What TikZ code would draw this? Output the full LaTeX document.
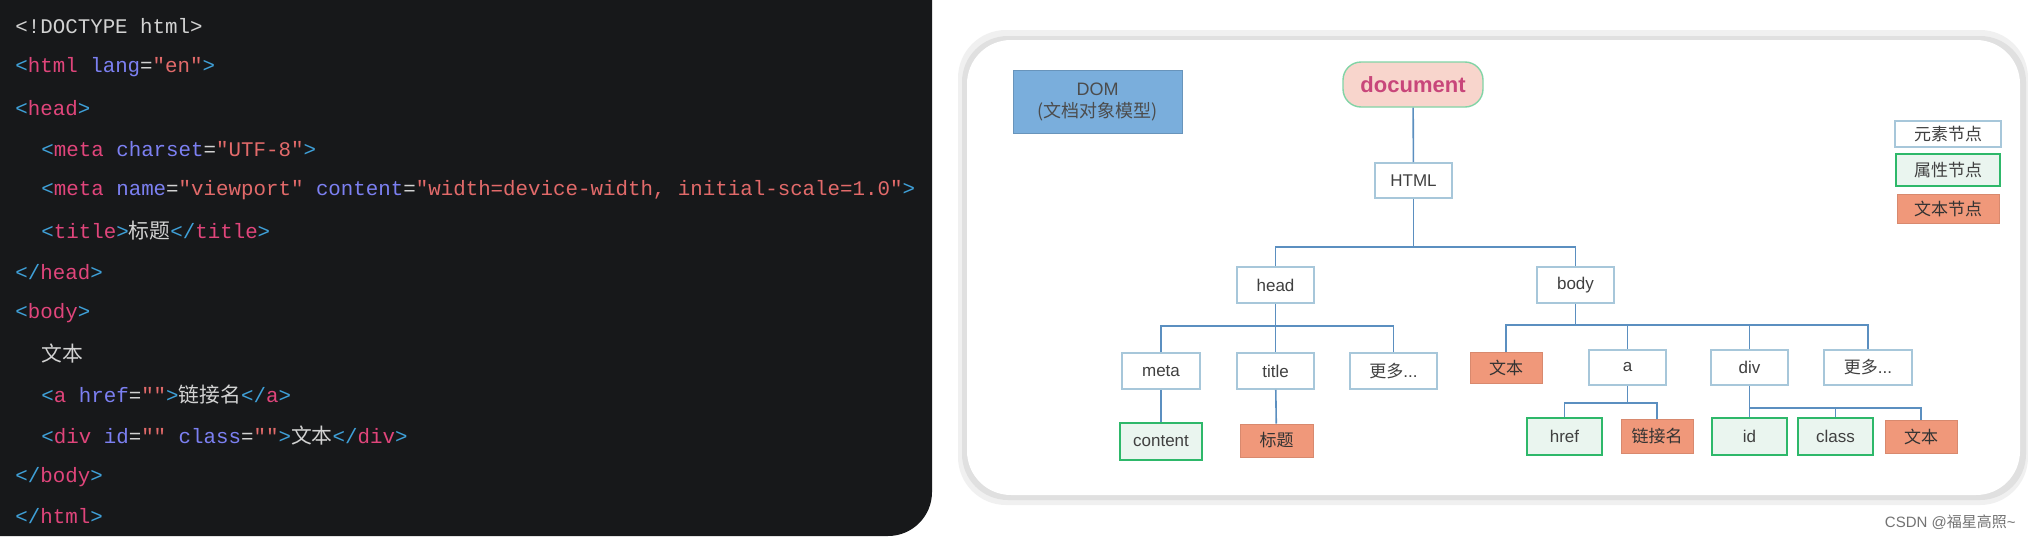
\documentclass[tikz,border=0pt]{standalone}
\usepackage{fontspec}
\setmainfont{Liberation Sans}
\setmonofont{Liberation Mono}
\newfontfamily\cjk{Noto Sans CJK SC}
\definecolor{codebg}{HTML}{17181A}
\definecolor{cbr}{HTML}{3FA0D8}
\definecolor{ctag}{HTML}{E0457B}
\definecolor{catt}{HTML}{7C80F2}
\definecolor{cval}{HTML}{E26A6A}
\definecolor{ctxt}{HTML}{D2D2D2}
\definecolor{conn}{HTML}{5B8FC0}
\definecolor{ebord}{HTML}{A7C7DA}
\definecolor{gbord}{HTML}{2EB86A}
\definecolor{gfill}{HTML}{EAF5EF}
\definecolor{tfill}{HTML}{F0987A}
\definecolor{domfill}{HTML}{7AAEDC}
\definecolor{docfill}{HTML}{F8D5CC}
\definecolor{doctext}{HTML}{C8467A}
\newcommand{\Lt}{\textcolor{cbr}{<}}
\newcommand{\Gt}{\textcolor{cbr}{>}}
\newcommand{\Tg}[1]{\textcolor{ctag}{#1}}
\newcommand{\At}[1]{\textcolor{catt}{#1}}
\newcommand{\Vl}[1]{\textcolor{cval}{#1}}
\newcommand{\Sl}{\textcolor{cbr}{/}}
\newcommand{\Cj}[1]{\textcolor{ctxt}{{\cjk #1}}}
\begin{document}
\begin{tikzpicture}[x=0.5pt,y=-0.5pt,
  codeline/.style={anchor=west,inner sep=0pt,font=\ttfamily\fontsize{10.4}{12}\selectfont,text=ctxt},
  elem/.style={draw=ebord,line width=0.8pt,fill=white,inner sep=0pt,font=\fontsize{8.5}{10}\selectfont,text=black!75},
  attr/.style={draw=gbord,line width=1.3pt,fill=gfill,inner sep=0pt,font=\fontsize{8.5}{10}\selectfont,text=black!75},
  txtn/.style={draw=tfill!90!black,line width=0.5pt,fill=tfill,inner sep=0pt,font=\fontsize{8.5}{10}\selectfont,text=black!80},
  link/.style={draw=conn,line width=0.8pt}]
\useasboundingbox (0,0) rectangle (2028,536);
\fill[white] (0,0) rectangle (2028,536);
% code panel
\fill[codebg,rounded corners=22pt] (-60,-60) rectangle (932,536);
\fill[codebg] (-60,-60) rectangle (300,536);
\node[codeline] (l1) at (15,25.6) {<!DOCTYPE html>};
\node[codeline] (l2) at (15,66.7) {\Lt\Tg{html} \At{lang}=\Vl{"en"}\Gt};
\node[codeline] (l3) at (15,107.7) {\Lt\Tg{head}\Gt};
\node[codeline] (l4) at (41,148.7) {\Lt\Tg{meta} \At{charset}=\Vl{"UTF-8"}\Gt};
\node[codeline] (l5) at (41,189.7) {\Lt\Tg{meta} \At{name}=\Vl{"viewport"} \At{content}=\Vl{"width=device-width, initial-scale=1.0"}\Gt};
\node[codeline] (l6) at (41,230.7) {\Lt\Tg{title}\Gt\Cj{标题}\Lt\Sl\Tg{title}\Gt};
\node[codeline] (l7) at (15,271.7) {\Lt\Sl\Tg{head}\Gt};
\node[codeline] (l8) at (15,312.7) {\Lt\Tg{body}\Gt};
\node[codeline] (l9) at (41,353.7) {\Cj{文本}};
\node[codeline] (l10) at (41,394.7) {\Lt\Tg{a} \At{href}=\Vl{""}\Gt\Cj{链接名}\Lt\Sl\Tg{a}\Gt};
\node[codeline] (l11) at (41,435.7) {\Lt\Tg{div} \At{id}=\Vl{""} \At{class}=\Vl{""}\Gt\Cj{文本}\Lt\Sl\Tg{div}\Gt};
\node[codeline] (l12) at (15,476.7) {\Lt\Sl\Tg{body}\Gt};
\node[codeline] (l13) at (15,516.5) {\Lt\Sl\Tg{html}\Gt};
% card
\fill[black!6,rounded corners=24pt] (958,30) rectangle (2028,505);
\fill[black!12,rounded corners=23pt] (962,36) rectangle (2026,500);
\fill[white,rounded corners=22pt] (967,40) rectangle (2020,495);
% nodes
\node[fill=domfill,draw=domfill!85!black,line width=0.4pt,minimum width=84.5pt,minimum height=31.5pt,inner sep=0pt,align=center,font=\fontsize{9}{11}\selectfont,text=black!70] (dom) at (1097.5,101.5) {DOM\\{\cjk (文档对象模型)}};
\node[draw=gbord!60,fill=docfill,rounded corners=9pt,line width=0.7pt,minimum width=70pt,minimum height=22.5pt,inner sep=0pt,font=\bfseries\fontsize{11}{13}\selectfont,text=doctext] (doc) at (1413,84.5) {document};
\node[elem,minimum width=38.5pt,minimum height=17.5pt] (html) at (1413.5,180.5) {HTML};
\node[elem,minimum width=38.5pt,minimum height=18pt] (head) at (1275.5,285) {head};
\node[elem,minimum width=38.5pt,minimum height=18pt] (body) at (1575.5,285) {body};
\node[elem,minimum width=39pt,minimum height=18pt] (meta) at (1161,371) {meta};
\node[elem,minimum width=38.5pt,minimum height=18pt] (title) at (1275.5,371) {title};
\node[elem,minimum width=43.5pt,minimum height=18pt] (more1) at (1393.5,371) {{\cjk 更多}...};
\node[txtn,minimum width=36pt,minimum height=15.5pt] (txt1) at (1506,367.5) {{\cjk 文本}};
\node[elem,minimum width=38.5pt,minimum height=17.5pt] (a) at (1627.5,367.5) {a};
\node[elem,minimum width=38.5pt,minimum height=17.5pt] (div) at (1749.5,367.5) {div};
\node[elem,minimum width=44pt,minimum height=17.5pt] (more2) at (1868,367.5) {{\cjk 更多}...};
\node[attr,minimum width=41pt,minimum height=18.5pt] (content) at (1161,441.5) {content};
\node[txtn,minimum width=36.5pt,minimum height=16.5pt] (tt) at (1276.5,440.5) {{\cjk 标题}};
\node[attr,minimum width=37.5pt,minimum height=18.5pt] (href) at (1564.5,436.5) {href};
\node[txtn,minimum width=36pt,minimum height=17pt] (lname) at (1657,436.5) {{\cjk 链接名}};
\node[attr,minimum width=37.5pt,minimum height=18.5pt] (id) at (1749.5,436.5) {id};
\node[attr,minimum width=37.5pt,minimum height=18.5pt] (class) at (1835.5,436.5) {class};
\node[txtn,minimum width=36pt,minimum height=16.5pt] (txt2) at (1921,436.5) {{\cjk 文本}};
% legend
\node[elem,minimum width=53pt,minimum height=13pt] (lg1) at (1948,134) {{\cjk 元素节点}};
\node[attr,minimum width=52pt,minimum height=16pt] (lg2) at (1948,170) {{\cjk 属性节点}};
\node[txtn,minimum width=51pt,minimum height=14.5pt] (lg3) at (1948,208.5) {{\cjk 文本节点}};
% connectors
\coordinate (bh) at (1413.5,247);
\coordinate (bhead) at (1275.5,326);
\coordinate (bbody) at (1575.5,325);
\coordinate (ba) at (1627.5,403);
\coordinate (bdiv) at (1749.5,408);
\draw[link] (doc) -- (html);
\draw[link] (html) -- (bh);
\draw[link] (head.north) |- (bh);
\draw[link] (body.north) |- (bh);
\draw[link] (head) -- (title);
\draw[link] (meta.north) |- (bhead);
\draw[link] (more1.north) |- (bhead);
\draw[link] (body) -- (bbody);
\draw[link] (txt1.north) |- (bbody);
\draw[link] (a.north) |- (bbody);
\draw[link] (div.north) |- (bbody);
\draw[link] (more2.north) |- (bbody);
\draw[link] (meta) -- (content);
\draw[link] (title) -- (tt);
\draw[link] (a) -- (ba);
\draw[link] (href.north) |- (ba);
\draw[link] (lname.north) |- (ba);
\draw[link] (div) -- (id);
\draw[link] (class.north) |- (bdiv);
\draw[link] (txt2.north) |- (bdiv);
\node[anchor=east,inner sep=0pt,font=\fontsize{7.5}{9}\selectfont,text=black!55] (wm) at (2016,522) {CSDN @{\cjk 福星高照}\textasciitilde};
\end{tikzpicture}
\end{document}
